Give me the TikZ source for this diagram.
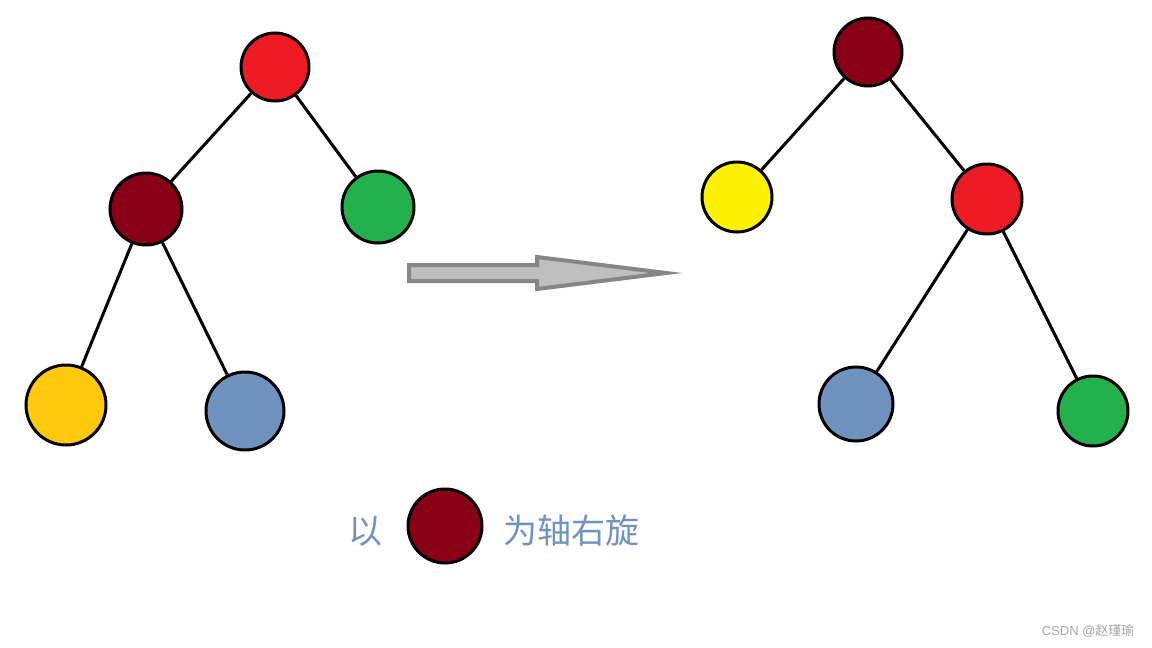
\documentclass[tikz,border=0pt]{standalone}
\usepackage{fontspec}
\newfontfamily\cjk{Noto Sans CJK SC}
\definecolor{cred}{HTML}{ED1C24}
\definecolor{cdark}{HTML}{880015}
\definecolor{cgreen}{HTML}{22B14C}
\definecolor{cyel}{HTML}{FFC90E}
\definecolor{cyel2}{HTML}{FFF200}
\definecolor{cblue}{HTML}{7092BE}
\begin{document}
\begin{tikzpicture}[x=1pt,y=-1pt,
  nd/.style={circle,draw=black,line width=3pt,inner sep=0pt},
  ed/.style={line width=3pt}]
\useasboundingbox (0,0) rectangle (1152,648);
\fill[white] (0,0) rectangle (1152,648);
% left tree
\node[nd,fill=cred,minimum size=68pt] (a) at (275,67) {};
\node[nd,fill=cdark,minimum size=72pt] (b) at (146,209) {};
\node[nd,fill=cgreen,minimum size=72pt] (c) at (378,207) {};
\node[nd,fill=cyel,minimum size=80pt] (d) at (66,405) {};
\node[nd,fill=cblue,minimum size=78pt] (e) at (245,411) {};
\draw[ed] (a) -- (b); \draw[ed] (a) -- (c);
\draw[ed] (b) -- (d); \draw[ed] (b) -- (e);
% right tree
\node[nd,fill=cdark,minimum size=68pt] (ra) at (868,52) {};
\node[nd,fill=cyel2,minimum size=70pt] (rb) at (737,197) {};
\node[nd,fill=cred,minimum size=70pt] (rc) at (987,199) {};
\node[nd,fill=cblue,minimum size=74pt] (rd) at (856,404) {};
\node[nd,fill=cgreen,minimum size=70pt] (re) at (1093,411) {};
\draw[ed] (ra) -- (rb); \draw[ed] (ra) -- (rc);
\draw[ed] (rc) -- (rd); \draw[ed] (rc) -- (re);
% arrow
\draw[line width=4pt,draw=gray!95,fill=gray!50,line join=miter]
  (409,265) -- (537,265) -- (537,257) -- (666,273) -- (537,289) -- (537,281) -- (409,281) -- cycle;
% caption
\node[nd,fill=cdark,minimum size=74pt] (k) at (445,526) {};
\node[text=cblue,font=\cjk\fontsize{34}{34}\selectfont,anchor=center] (t1) at (365,531) {以};
\node[text=cblue,font=\cjk\fontsize{34}{34}\selectfont,anchor=west] (t2) at (500,531) {为轴右旋};
\node[text=gray!70,font=\fontspec{Liberation Sans}\fontsize{13}{13}\selectfont,anchor=east] (w) at (1138,631) {CSDN @{\cjk 赵瑾瑜}};
\end{tikzpicture}
\end{document}
